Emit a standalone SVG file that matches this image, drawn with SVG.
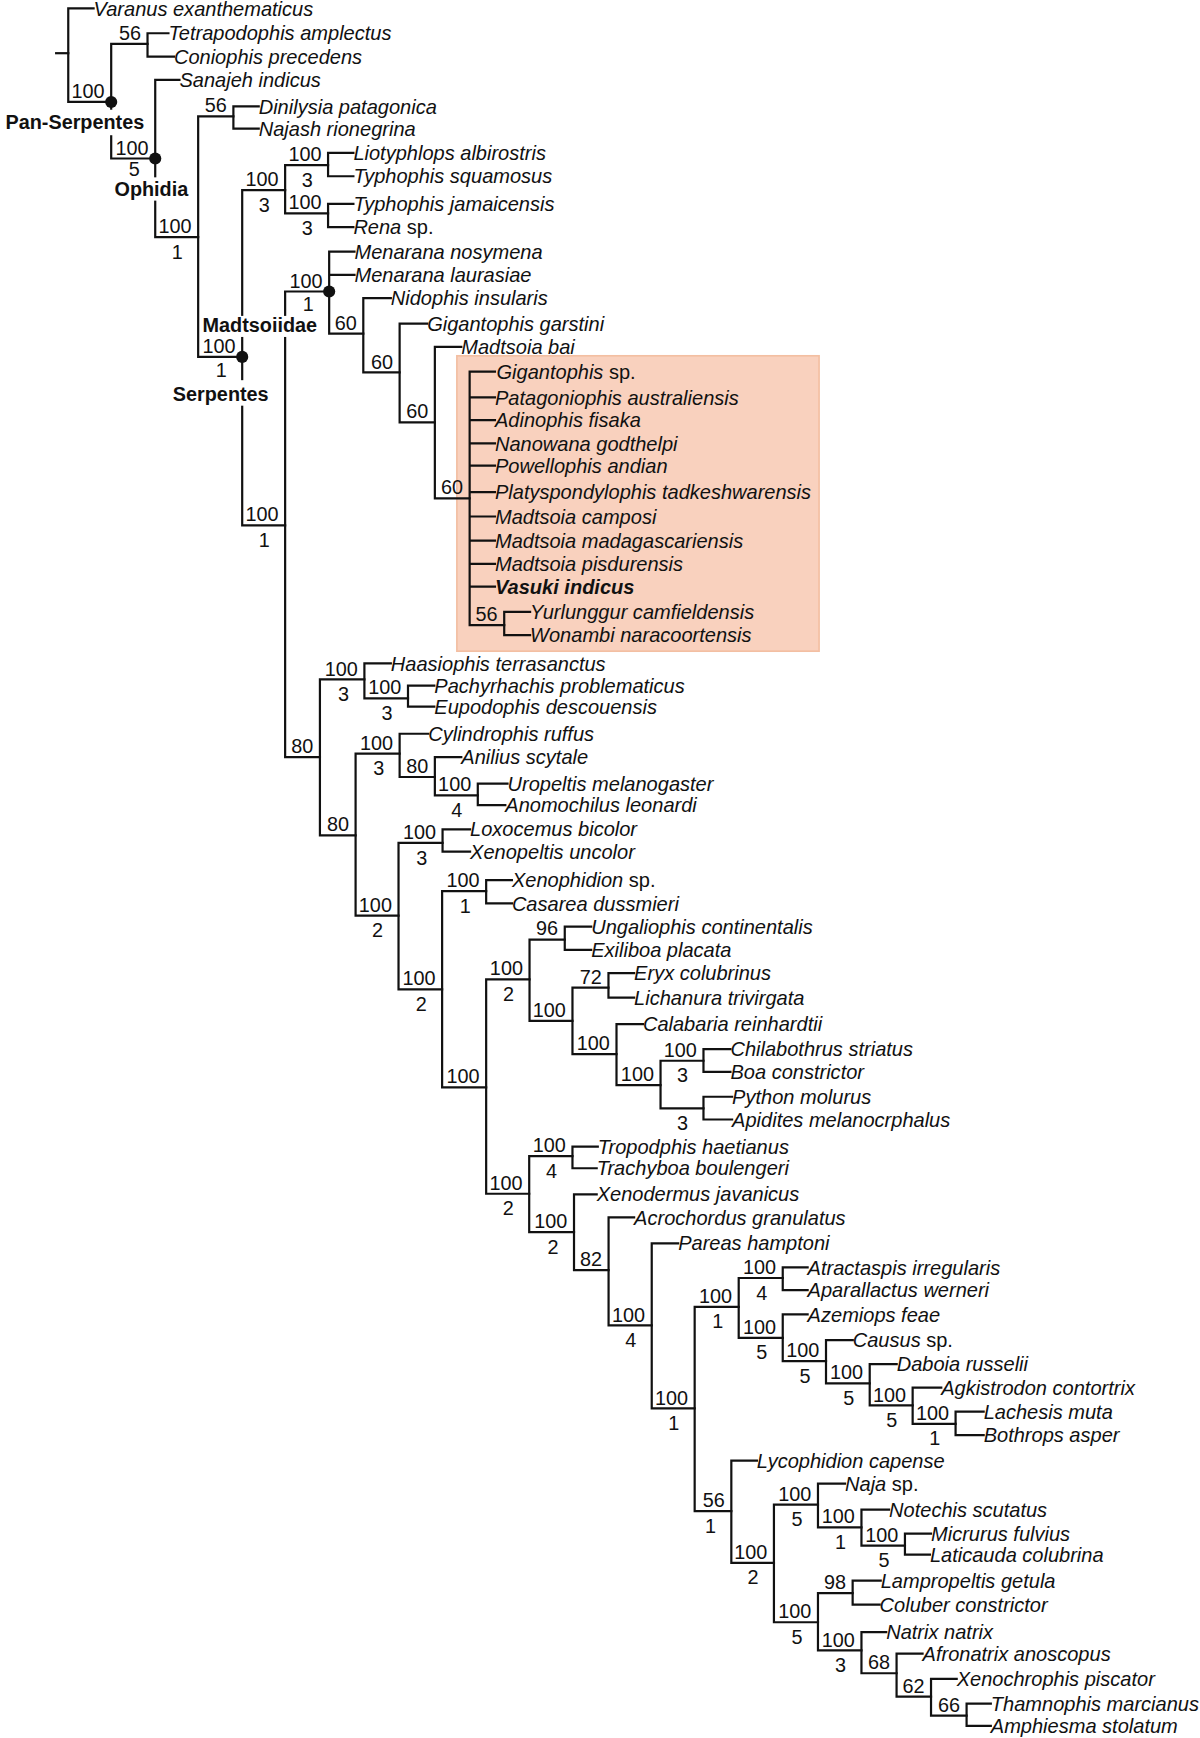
<svg xmlns="http://www.w3.org/2000/svg" width="1200" height="1738" viewBox="0 0 1200 1738">
<style>
.t{font-family:"Liberation Sans",Arial,sans-serif;font-size:18.2px;font-style:italic;fill:#111}
.r{font-style:normal}
.vb{font-weight:bold}
.n{font-family:"Liberation Sans",Arial,sans-serif;font-size:18px;fill:#111}
.s{text-anchor:end}
.b{text-anchor:middle}
.cl{font-family:"Liberation Sans",Arial,sans-serif;font-size:18px;font-weight:bold;fill:#111}
.bg{fill:#fff}
.dot{fill:#111}
#connectors path{fill:none;stroke:#111;stroke-width:2;stroke-linejoin:miter;stroke-linecap:square}
</style>
<rect width="1200" height="1738" fill="#fff"/>
<g transform="scale(1.1009 1.1084)">
<rect id="highlight-box" x="415" y="321" width="329" height="266.5" fill="#f9d1be" stroke="#f3bfa2" stroke-width="1.5"/>
<g id="connectors">
<path d="M51,48 H62"/>
<path d="M85,7.5 H62 V92 H101"/>
<path d="M134,39.5 H101 V143 H141"/>
<path d="M153,30 H134 V51 H158"/>
<path d="M163,72 H141 V214 H180"/>
<path d="M212,105 H180 V322 H220"/>
<path d="M235,96 H212 V116 H235"/>
<path d="M259,171.5 H220 V474 H259"/>
<path d="M298,149 H259 V192.6 H298"/>
<path d="M321,138 H298 V159 H321"/>
<path d="M321,184 H298 V205 H321"/>
<path d="M299,263 H259 V683 H290.6"/>
<path d="M322,227 H299 V301 H330 M299,248 H322"/>
<path d="M355,269 H330 V336 H363"/>
<path d="M388,292 H363 V381 H395"/>
<path d="M419,313 H395 V449.6 H426.6"/>
<path d="M449.6,335.3 H426.6 V564 H458 M426.6,358.5 H449.6 M426.6,379 H449.6 M426.6,400 H449.6 M426.6,420 H449.6 M426.6,444 H449.6 M426.6,466 H449.6 M426.6,487.8 H449.6 M426.6,508.8 H449.6 M426.6,529.3 H449.6"/>
<path d="M481.5,552 H458 V573 H481.5"/>
<path d="M331,613 H290.6 V753.6 H323"/>
<path d="M355,598.5 H331 V630 H370.6"/>
<path d="M394.5,618.6 H370.6 V637.6 H394.5"/>
<path d="M363,680 H323 V826 H362"/>
<path d="M389,662 H363 V701 H395"/>
<path d="M419,683 H395 V717.5 H434"/>
<path d="M461,707 H434 V726.3 H459"/>
<path d="M402,760.5 H362 V892.6 H401.6"/>
<path d="M427,748.2 H402 V768.4 H427"/>
<path d="M441.6,804 H401.6 V981 H441.6"/>
<path d="M465,794 H441.6 V815 H465"/>
<path d="M481,883.6 H441.6 V1077 H480.7"/>
<path d="M513,847.7 H481 V921 H520"/>
<path d="M537,836 H513 V857 H537"/>
<path d="M552.7,891 H520 V951 H560"/>
<path d="M576,878 H552.7 V900 H576"/>
<path d="M584,924 H560 V979 H600"/>
<path d="M639,957 H600 V1000 H639"/>
<path d="M663.5,946.5 H639 V967 H663.5"/>
<path d="M665,989.5 H639 V1010 H665"/>
<path d="M520,1043 H480.7 V1111.6 H521.4"/>
<path d="M543,1034.5 H520 V1054 H542"/>
<path d="M542,1077.5 H521.4 V1146 H552.8"/>
<path d="M576,1098.3 H552.8 V1195.8 H592"/>
<path d="M616,1121.7 H592 V1270.7 H631"/>
<path d="M671,1179 H631 V1363.4 H664.3"/>
<path d="M711,1153 H671 V1207 H711"/>
<path d="M733.6,1143.4 H711 V1164 H733.6"/>
<path d="M733.6,1185.8 H711 V1228 H750.3"/>
<path d="M774.6,1209 H750.3 V1248 H790"/>
<path d="M814.5,1230.7 H790 V1268 H829"/>
<path d="M855,1252 H829 V1284.6 H868"/>
<path d="M893.5,1273.6 H868 V1294.7 H893.5"/>
<path d="M687.5,1317.7 H664.3 V1410 H703"/>
<path d="M743,1357.5 H703 V1463.6 H743"/>
<path d="M767.6,1338.6 H743 V1378 H782.5"/>
<path d="M807.6,1362 H782.5 V1394.4 H822"/>
<path d="M845.7,1383.7 H822 V1402.5 H844.7"/>
<path d="M774.5,1437.4 H743 V1489 H782.5"/>
<path d="M800,1426 H774.5 V1447.7 H799"/>
<path d="M805,1472.6 H782.5 V1509.6 H814.4"/>
<path d="M838,1492 H814.4 V1530.7 H845.7"/>
<path d="M869,1514.7 H845.7 V1547.8 H878"/>
<path d="M900,1537 H878 V1557 H900"/>
</g>
<g id="clade-labels">
<g id="lbl-pan-serpentes"><rect class="bg" x="3" y="99" width="131" height="23"/><text class="cl" x="5" y="116.5">Pan-Serpentes</text></g>
<g id="lbl-ophidia"><rect class="bg" x="102" y="160" width="70" height="21"/><text class="cl" x="104" y="177">Ophidia</text></g>
<g id="lbl-madtsoiidae"><rect class="bg" x="182" y="285" width="109" height="19"/><text class="cl" x="184" y="299.5">Madtsoiidae</text></g>
<g id="lbl-serpentes"><rect class="bg" x="155" y="343" width="91" height="23"/><text class="cl" x="157" y="361.5">Serpentes</text></g>
</g>
<g id="nodes">
<g id="n-panserpentes"><circle class="dot" cx="101" cy="92" r="5.5"/><text class="n s" x="95" y="88.5">100</text></g>
<g id="n-tc"><text class="n s" x="128" y="36">56</text></g>
<g id="n-ophidia"><circle class="dot" cx="141" cy="143" r="5.5"/><text class="n s" x="135" y="139.5">100</text><text class="n b" x="122" y="158.5">5</text></g>
<g id="n-a"><text class="n s" x="174" y="210.5">100</text><text class="n b" x="161" y="233.5">1</text></g>
<g id="n-dn"><text class="n s" x="206" y="101.5">56</text></g>
<g id="n-serpentes"><circle class="dot" cx="220" cy="322" r="5.5"/><text class="n s" x="214" y="318.5">100</text><text class="n b" x="201" y="340.5">1</text></g>
<g id="n-scol"><text class="n s" x="253" y="168">100</text><text class="n b" x="240" y="191">3</text></g>
<g id="n-s1"><text class="n s" x="292" y="145.5">100</text><text class="n b" x="279" y="168.5">3</text></g>
<g id="n-s2"><text class="n s" x="292" y="189">100</text><text class="n b" x="279" y="212">3</text></g>
<g id="n-b"><text class="n s" x="253" y="470.5">100</text><text class="n b" x="240" y="493.5">1</text></g>
<g id="n-madtsoiidae"><circle class="dot" cx="299" cy="263" r="5.5"/><text class="n s" x="293" y="259.5">100</text><text class="n b" x="280" y="280.5">1</text></g>
<g id="n-m60a"><text class="n s" x="324" y="297.5">60</text></g>
<g id="n-m60b"><text class="n s" x="357" y="332.5">60</text></g>
<g id="n-m60c"><text class="n s" x="389" y="377.5">60</text></g>
<g id="n-box"><text class="n s" x="420.6" y="446">60</text></g>
<g id="n-y56"><text class="n s" x="452" y="560.5">56</text></g>
<g id="n-80a"><text class="n s" x="284.6" y="679.5">80</text></g>
<g id="n-h"><text class="n s" x="325" y="609.5">100</text><text class="n b" x="312" y="632.5">3</text></g>
<g id="n-p"><text class="n s" x="364.6" y="626.5">100</text><text class="n b" x="351.6" y="649.5">3</text></g>
<g id="n-80b"><text class="n s" x="317" y="750">80</text></g>
<g id="n-c"><text class="n s" x="357" y="676.5">100</text><text class="n b" x="344" y="699.5">3</text></g>
<g id="n-a80"><text class="n s" x="389" y="697.5">80</text></g>
<g id="n-u"><text class="n s" x="428" y="714">100</text><text class="n b" x="415" y="737">4</text></g>
<g id="n-2a"><text class="n s" x="356" y="822.5">100</text><text class="n b" x="343" y="845.5">2</text></g>
<g id="n-l"><text class="n s" x="396" y="757">100</text><text class="n b" x="383" y="780">3</text></g>
<g id="n-2b"><text class="n s" x="395.6" y="889">100</text><text class="n b" x="382.6" y="912">2</text></g>
<g id="n-x"><text class="n s" x="435.6" y="800.5">100</text><text class="n b" x="422.6" y="823.5">1</text></g>
<g id="n-100c"><text class="n s" x="435.6" y="977.5">100</text></g>
<g id="n-b2"><text class="n s" x="475" y="880">100</text><text class="n b" x="462" y="903">2</text></g>
<g id="n-u96"><text class="n s" x="507" y="844">96</text></g>
<g id="n-b100"><text class="n s" x="514" y="917.5">100</text></g>
<g id="n-e72"><text class="n s" x="546.7" y="887.5">72</text></g>
<g id="n-b100b"><text class="n s" x="554" y="947.5">100</text></g>
<g id="n-b100c"><text class="n s" x="594" y="975.5">100</text></g>
<g id="n-cb"><text class="n s" x="633" y="953.5">100</text><text class="n b" x="620" y="976.5">3</text></g>
<g id="n-pa"><text class="n b" x="620" y="1019.5">3</text></g>
<g id="n-t2"><text class="n s" x="474.7" y="1073.5">100</text><text class="n b" x="461.7" y="1096.5">2</text></g>
<g id="n-trop"><text class="n s" x="514" y="1039.5">100</text><text class="n b" x="501" y="1062.5">4</text></g>
<g id="n-t2b"><text class="n s" x="515.4" y="1108">100</text><text class="n b" x="502.4" y="1131">2</text></g>
<g id="n-a82"><text class="n s" x="546.8" y="1142.5">82</text></g>
<g id="n-c4"><text class="n s" x="586" y="1192.3">100</text><text class="n b" x="573" y="1215.3">4</text></g>
<g id="n-c1"><text class="n s" x="625" y="1267.2">100</text><text class="n b" x="612" y="1290.2">1</text></g>
<g id="n-v1a"><text class="n s" x="665" y="1175.5">100</text><text class="n b" x="652" y="1198.5">1</text></g>
<g id="n-at"><text class="n s" x="705" y="1149.5">100</text><text class="n b" x="692" y="1172.5">4</text></g>
<g id="n-v5a"><text class="n s" x="705" y="1203.5">100</text><text class="n b" x="692" y="1226.5">5</text></g>
<g id="n-v5b"><text class="n s" x="744.3" y="1224.5">100</text><text class="n b" x="731.3" y="1247.5">5</text></g>
<g id="n-v5c"><text class="n s" x="784" y="1244.5">100</text><text class="n b" x="771" y="1267.5">5</text></g>
<g id="n-v5d"><text class="n s" x="823" y="1264.5">100</text><text class="n b" x="810" y="1287.5">5</text></g>
<g id="n-v1"><text class="n s" x="862" y="1281.1">100</text><text class="n b" x="849" y="1304.1">1</text></g>
<g id="n-e56"><text class="n s" x="658.3" y="1359.9">56</text><text class="n b" x="645.3" y="1382.9">1</text></g>
<g id="n-e2"><text class="n s" x="697" y="1406.5">100</text><text class="n b" x="684" y="1429.5">2</text></g>
<g id="n-nj"><text class="n s" x="737" y="1354">100</text><text class="n b" x="724" y="1377">5</text></g>
<g id="n-nj1"><text class="n s" x="776.5" y="1374.5">100</text><text class="n b" x="763.5" y="1397.5">1</text></g>
<g id="n-nj5"><text class="n s" x="816" y="1391">100</text><text class="n b" x="803" y="1414">5</text></g>
<g id="n-col"><text class="n s" x="737" y="1460">100</text><text class="n b" x="724" y="1483">5</text></g>
<g id="n-l98"><text class="n s" x="768.5" y="1434">98</text></g>
<g id="n-n3"><text class="n s" x="776.5" y="1485.5">100</text><text class="n b" x="763.5" y="1508.5">3</text></g>
<g id="n-n68"><text class="n s" x="808.4" y="1506">68</text></g>
<g id="n-n62"><text class="n s" x="839.7" y="1527">62</text></g>
<g id="n-n66"><text class="n s" x="872" y="1544.3">66</text></g>
</g>
<g id="leaves">
<g id="leaf-varanus"><text class="t" x="85" y="14">Varanus exanthematicus</text></g>
<g id="leaf-tetrapodophis"><text class="t" x="153" y="36.5">Tetrapodophis amplectus</text></g>
<g id="leaf-coniophis"><text class="t" x="158" y="57.5">Coniophis precedens</text></g>
<g id="leaf-sanajeh"><text class="t" x="163" y="78.5">Sanajeh indicus</text></g>
<g id="leaf-dinilysia"><text class="t" x="235" y="102.5">Dinilysia patagonica</text></g>
<g id="leaf-najash"><text class="t" x="235" y="122.5">Najash rionegrina</text></g>
<g id="leaf-liotyphlops"><text class="t" x="321" y="144.5">Liotyphlops albirostris</text></g>
<g id="leaf-typhophis-sq"><text class="t" x="321" y="165.5">Typhophis squamosus</text></g>
<g id="leaf-typhophis-ja"><text class="t" x="321" y="190.5">Typhophis jamaicensis</text></g>
<g id="leaf-rena"><text class="t" x="321" y="211.5">Rena <tspan class="r">sp.</tspan></text></g>
<g id="leaf-menarana-n"><text class="t" x="322" y="233.5">Menarana nosymena</text></g>
<g id="leaf-menarana-l"><text class="t" x="322" y="254.5">Menarana laurasiae</text></g>
<g id="leaf-nidophis"><text class="t" x="355" y="275.5">Nidophis insularis</text></g>
<g id="leaf-gigantophis-g"><text class="t" x="388" y="298.5">Gigantophis garstini</text></g>
<g id="leaf-madtsoia-bai"><text class="t" x="419" y="319.5">Madtsoia bai</text></g>
<g id="leaf-gigantophis-sp"><text class="t" x="451" y="341.8">Gigantophis <tspan class="r">sp.</tspan></text></g>
<g id="leaf-patagoniophis"><text class="t" x="449.6" y="365">Patagoniophis australiensis</text></g>
<g id="leaf-adinophis"><text class="t" x="449.6" y="385.5">Adinophis fisaka</text></g>
<g id="leaf-nanowana"><text class="t" x="449.6" y="406.5">Nanowana godthelpi</text></g>
<g id="leaf-powellophis"><text class="t" x="449.6" y="426.5">Powellophis andian</text></g>
<g id="leaf-platyspondylophis"><text class="t" x="449.6" y="450.5">Platyspondylophis tadkeshwarensis</text></g>
<g id="leaf-madtsoia-c"><text class="t" x="449.6" y="472.5">Madtsoia camposi</text></g>
<g id="leaf-madtsoia-m"><text class="t" x="449.6" y="494.3">Madtsoia madagascariensis</text></g>
<g id="leaf-madtsoia-p"><text class="t" x="449.6" y="515.3">Madtsoia pisdurensis</text></g>
<g id="leaf-vasuki"><text class="t vb" x="449.6" y="535.8">Vasuki indicus</text></g>
<g id="leaf-yurlunggur"><text class="t" x="481.5" y="558.5">Yurlunggur camfieldensis</text></g>
<g id="leaf-wonambi"><text class="t" x="481.5" y="579.5">Wonambi naracoortensis</text></g>
<g id="leaf-haasiophis"><text class="t" x="355" y="605">Haasiophis terrasanctus</text></g>
<g id="leaf-pachyrhachis"><text class="t" x="394.5" y="625.1">Pachyrhachis problematicus</text></g>
<g id="leaf-eupodophis"><text class="t" x="394.5" y="644.1">Eupodophis descouensis</text></g>
<g id="leaf-cylindrophis"><text class="t" x="389" y="668.5">Cylindrophis ruffus</text></g>
<g id="leaf-anilius"><text class="t" x="419" y="689.5">Anilius scytale</text></g>
<g id="leaf-uropeltis"><text class="t" x="461" y="713.5">Uropeltis melanogaster</text></g>
<g id="leaf-anomochilus"><text class="t" x="459" y="732.8">Anomochilus leonardi</text></g>
<g id="leaf-loxocemus"><text class="t" x="427" y="754.7">Loxocemus bicolor</text></g>
<g id="leaf-xenopeltis"><text class="t" x="427" y="774.9">Xenopeltis uncolor</text></g>
<g id="leaf-xenophidion"><text class="t" x="465" y="800.5">Xenophidion <tspan class="r">sp.</tspan></text></g>
<g id="leaf-casarea"><text class="t" x="465" y="821.5">Casarea dussmieri</text></g>
<g id="leaf-ungaliophis"><text class="t" x="537" y="842.5">Ungaliophis continentalis</text></g>
<g id="leaf-exiliboa"><text class="t" x="537" y="863.5">Exiliboa placata</text></g>
<g id="leaf-eryx"><text class="t" x="576" y="884.5">Eryx colubrinus</text></g>
<g id="leaf-lichanura"><text class="t" x="576" y="906.5">Lichanura trivirgata</text></g>
<g id="leaf-calabaria"><text class="t" x="584" y="930.5">Calabaria reinhardtii</text></g>
<g id="leaf-chilabothrus"><text class="t" x="663.5" y="953">Chilabothrus striatus</text></g>
<g id="leaf-boa"><text class="t" x="663.5" y="973.5">Boa constrictor</text></g>
<g id="leaf-python"><text class="t" x="665" y="996">Python molurus</text></g>
<g id="leaf-apidites"><text class="t" x="665" y="1016.5">Apidites melanocrphalus</text></g>
<g id="leaf-tropodphis"><text class="t" x="543" y="1041">Tropodphis haetianus</text></g>
<g id="leaf-trachyboa"><text class="t" x="542" y="1060.5">Trachyboa boulengeri</text></g>
<g id="leaf-xenodermus"><text class="t" x="542" y="1084">Xenodermus javanicus</text></g>
<g id="leaf-acrochordus"><text class="t" x="576" y="1104.8">Acrochordus granulatus</text></g>
<g id="leaf-pareas"><text class="t" x="616" y="1128.2">Pareas hamptoni</text></g>
<g id="leaf-atractaspis"><text class="t" x="733.6" y="1149.9">Atractaspis irregularis</text></g>
<g id="leaf-aparallactus"><text class="t" x="733.6" y="1170.5">Aparallactus werneri</text></g>
<g id="leaf-azemiops"><text class="t" x="733.6" y="1192.3">Azemiops feae</text></g>
<g id="leaf-causus"><text class="t" x="774.6" y="1215.5">Causus <tspan class="r">sp.</tspan></text></g>
<g id="leaf-daboia"><text class="t" x="814.5" y="1237.2">Daboia russelii</text></g>
<g id="leaf-agkistrodon"><text class="t" x="855" y="1258.5">Agkistrodon contortrix</text></g>
<g id="leaf-lachesis"><text class="t" x="893.5" y="1280.1">Lachesis muta</text></g>
<g id="leaf-bothrops"><text class="t" x="893.5" y="1301.2">Bothrops asper</text></g>
<g id="leaf-lycophidion"><text class="t" x="687.5" y="1324.2">Lycophidion capense</text></g>
<g id="leaf-naja"><text class="t" x="767.6" y="1345.1">Naja <tspan class="r">sp.</tspan></text></g>
<g id="leaf-notechis"><text class="t" x="807.6" y="1368.5">Notechis scutatus</text></g>
<g id="leaf-micrurus"><text class="t" x="845.7" y="1390.2">Micrurus fulvius</text></g>
<g id="leaf-laticauda"><text class="t" x="844.7" y="1409">Laticauda colubrina</text></g>
<g id="leaf-lampropeltis"><text class="t" x="800" y="1432.5">Lampropeltis getula</text></g>
<g id="leaf-coluber"><text class="t" x="799" y="1454.2">Coluber constrictor</text></g>
<g id="leaf-natrix"><text class="t" x="805" y="1479.1">Natrix natrix</text></g>
<g id="leaf-afronatrix"><text class="t" x="838" y="1498.5">Afronatrix anoscopus</text></g>
<g id="leaf-xenochrophis"><text class="t" x="869" y="1521.2">Xenochrophis piscator</text></g>
<g id="leaf-thamnophis"><text class="t" x="900" y="1543.5">Thamnophis marcianus</text></g>
<g id="leaf-amphiesma"><text class="t" x="900" y="1563.5">Amphiesma stolatum</text></g>
</g>
</g>
</svg>
